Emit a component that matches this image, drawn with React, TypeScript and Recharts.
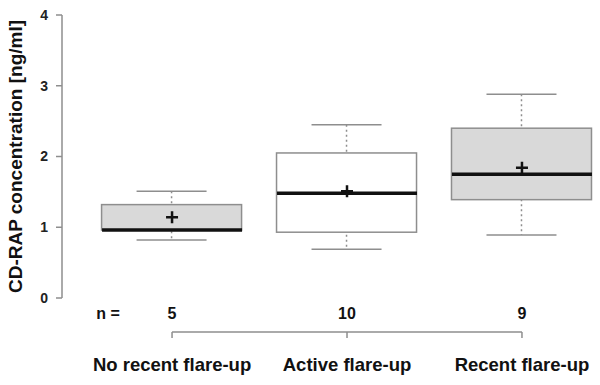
import {
  ComposedChart,
  Bar,
  Scatter,
  Cell,
  XAxis,
  YAxis,
  ReferenceLine,
} from "recharts";

const groups = ["No recent flare-up", "Active flare-up", "Recent flare-up"];
const positions = [1, 2, 3];
const counts = [5, 10, 9];
const whiskerLow = [0.82, 0.69, 0.89];
const lowerQuartile = [0.96, 0.93, 1.39];
const medians = [0.96, 1.48, 1.75];
const upperQuartile = [1.32, 2.05, 2.4];
const whiskerHigh = [1.51, 2.45, 2.88];
const means = [1.14, 1.51, 1.84];
const yTicks = [0, 1, 2, 3, 4];

const BOX_FILLS = ["#d9d9d9", "#ffffff", "#d9d9d9"];
const BOX_WIDTH = 140;
const CAP_WIDTH = 70;
const BRACKET_Y = -0.48;
const FONT = "'Liberation Sans', Arial, sans-serif";
const GRAY = "#8e8e8e";

const data = groups.map((name, i) => ({
  name,
  x: positions[i],
  n: counts[i],
  whisker: [whiskerLow[i], whiskerHigh[i]],
  box: [lowerQuartile[i], upperQuartile[i]],
  median: medians[i],
  mean: means[i],
}));

function Whisker(props: any) {
  const { x, y, width, height } = props;
  const cx = x + width / 2;
  return (
    <g>
      <line x1={cx} x2={cx} y1={y} y2={y + height} stroke={GRAY} strokeWidth={1.5} strokeDasharray="2 3" />
      <line x1={x} x2={x + width} y1={y} y2={y} stroke={GRAY} strokeWidth={1.5} />
      <line x1={x} x2={x + width} y1={y + height} y2={y + height} stroke={GRAY} strokeWidth={1.5} />
    </g>
  );
}

function Box(props: any) {
  const { x, y, width, height, fill } = props;
  return <rect x={x} y={y} width={width} height={height} fill={fill} stroke={GRAY} strokeWidth={1.5} />;
}

function MedianLine(props: any) {
  const { cx, cy } = props;
  return (
    <line x1={cx - BOX_WIDTH / 2} x2={cx + BOX_WIDTH / 2} y1={cy} y2={cy} stroke="#111" strokeWidth={3.5} />
  );
}

function MeanCross(props: any) {
  const { cx, cy } = props;
  return (
    <path d={`M${cx - 6},${cy}H${cx + 6}M${cx},${cy - 6}V${cy + 6}`} stroke="#111" strokeWidth={2.5} fill="none" />
  );
}

function GroupTick(props: any) {
  const { x, y, index } = props;
  const d = data[index];
  return (
    <g fontFamily={FONT} fontWeight="bold" fill="#111">
      {index === 0 && (
        <text x={x - 64} y={y + 21} textAnchor="middle" fontSize={16}>
          n =
        </text>
      )}
      <text x={x} y={y + 21} textAnchor="middle" fontSize={16}>
        {d.n}
      </text>
      <line x1={x} x2={x} y1={y + 34} y2={y + 40} stroke={GRAY} strokeWidth={1.5} />
      <text x={x} y={y + 73} textAnchor="middle" fontSize={18.5}>
        {d.name}
      </text>
    </g>
  );
}

export default function App() {
  return (
    <div style={{ position: "absolute", left: 0, top: 0, background: "#fff" }}>
      <ComposedChart width={600} height={385} data={data} margin={{ top: 15, right: 0, bottom: 0, left: 0 }}>
        <XAxis
          xAxisId="main"
          dataKey="x"
          type="number"
          domain={[0.371, 3.446]}
          ticks={positions}
          height={87}
          axisLine={false}
          tickLine={false}
          tickSize={0}
          tickMargin={0}
          tick={<GroupTick />}
          interval={0}
        />
        <XAxis xAxisId="whisk" dataKey="x" type="number" domain={[0.371, 3.446]} hide />
        <YAxis
          domain={[0, 4]}
          ticks={yTicks}
          width={62}
          axisLine={{ stroke: GRAY, strokeWidth: 1.5 }}
          tickLine={{ stroke: GRAY, strokeWidth: 1.5 }}
          tickSize={6}
          tickMargin={8}
          tick={{ fontSize: 14, fontWeight: "bold", fill: "#222", fontFamily: FONT }}
          label={{
            value: "CD-RAP concentration [ng/ml]",
            angle: -90,
            position: "insideLeft",
            offset: 15,
            style: { textAnchor: "middle", fontSize: 19, fontWeight: "bold", fill: "#111", fontFamily: FONT },
          }}
        />
        <Bar xAxisId="whisk" dataKey="whisker" barSize={CAP_WIDTH} shape={<Whisker />} isAnimationActive={false} />
        <Bar xAxisId="main" dataKey="box" barSize={BOX_WIDTH} shape={<Box />} isAnimationActive={false}>
          {data.map((d, i) => (
            <Cell key={d.name} fill={BOX_FILLS[i]} />
          ))}
        </Bar>
        <Scatter xAxisId="main" dataKey="median" shape={<MedianLine />} isAnimationActive={false} />
        <Scatter xAxisId="main" dataKey="mean" shape={<MeanCross />} isAnimationActive={false} />
        <ReferenceLine
          xAxisId="main"
          segment={[
            { x: positions[0], y: BRACKET_Y },
            { x: positions[positions.length - 1], y: BRACKET_Y },
          ]}
          ifOverflow="visible"
          stroke={GRAY}
          strokeWidth={1.5}
        />
      </ComposedChart>
    </div>
  );
}
